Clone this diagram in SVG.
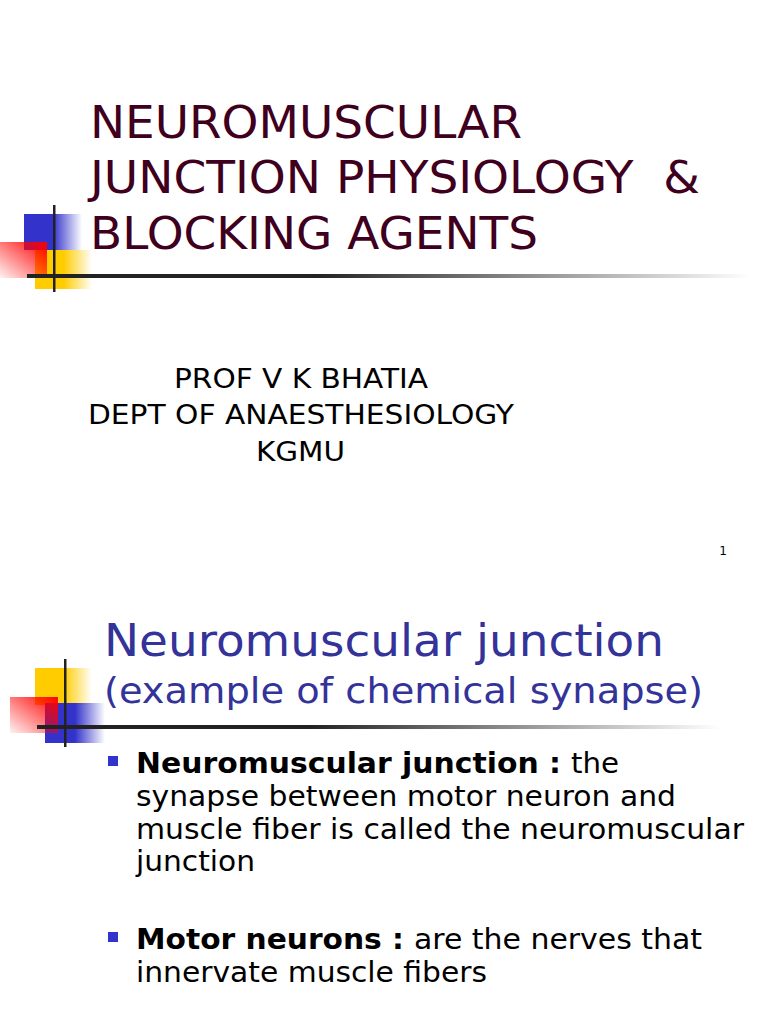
<svg xmlns="http://www.w3.org/2000/svg" width="768" height="1024" viewBox="0 0 768 1024">
<defs>
<linearGradient id="bl" x1="0" x2="1"><stop offset="0.5" stop-color="#3333cc"/><stop offset="1" stop-color="#3333cc" stop-opacity="0"/></linearGradient>
<linearGradient id="ye" x1="0" x2="1"><stop offset="0.5" stop-color="#ffcc00"/><stop offset="1" stop-color="#ffcc00" stop-opacity="0"/></linearGradient>
<linearGradient id="re" x1="1" y1="0" x2="0" y2="1"><stop offset="0" stop-color="#ff0000"/><stop offset="1" stop-color="#ff0000" stop-opacity="0.05"/></linearGradient>
<linearGradient id="ln" x1="0" x2="1"><stop offset="0.4" stop-color="#222"/><stop offset="1" stop-color="#222" stop-opacity="0"/></linearGradient>
<style>text{font-family:"DejaVu Sans",Verdana,sans-serif}</style>
</defs>
<rect width="768" height="1024" fill="#fff"/>
<g id="slide1">
<rect x="24" y="214" width="58" height="36" fill="url(#bl)"/>
<rect x="35" y="250" width="57" height="39" fill="url(#ye)"/>
<rect x="0" y="242" width="47" height="36" fill="url(#re)"/>
<rect x="27" y="274" width="723" height="4" fill="url(#ln)"/>
<rect x="53" y="205" width="2.5" height="87" fill="#222"/>
<g font-size="45" fill="#3f0020" lengthAdjust="spacingAndGlyphs">
<text x="90" y="138" textLength="432" lengthAdjust="spacingAndGlyphs">NEUROMUSCULAR</text>
<text x="90" y="193" textLength="610" lengthAdjust="spacingAndGlyphs" xml:space="preserve">JUNCTION PHYSIOLOGY  &amp;</text>
<text x="90" y="249" textLength="448" lengthAdjust="spacingAndGlyphs">BLOCKING AGENTS</text>
</g>
<g font-size="27" fill="#000">
<text x="174" y="388" textLength="254" lengthAdjust="spacingAndGlyphs">PROF V K BHATIA</text>
<text x="88" y="424" textLength="426" lengthAdjust="spacingAndGlyphs">DEPT OF ANAESTHESIOLOGY</text>
<text x="256" y="461" textLength="89" lengthAdjust="spacingAndGlyphs">KGMU</text>
</g>
<text x="723" y="555" font-size="12" text-anchor="middle">1</text>
</g>
<g id="slide2">
<rect x="35" y="668" width="57" height="37" fill="url(#ye)"/>
<rect x="45" y="703" width="60" height="40" fill="url(#bl)"/>
<rect x="10" y="697" width="48" height="36" fill="url(#re)"/>
<rect x="37" y="725" width="683" height="4" fill="url(#ln)"/>
<rect x="64" y="659" width="2.5" height="88" fill="#222"/>
<text x="104" y="656" font-size="45" fill="#333399" textLength="560" lengthAdjust="spacingAndGlyphs">Neuromuscular junction</text>
<text x="104" y="703" font-size="36" fill="#333399" textLength="599" lengthAdjust="spacingAndGlyphs">(example of chemical synapse)</text>
<rect x="108" y="756" width="10" height="10" fill="#3333cc"/>
<rect x="108" y="932" width="10" height="10" fill="#3333cc"/>
<g font-size="28" fill="#000">
<text x="136" y="773" font-weight="bold" textLength="425" lengthAdjust="spacingAndGlyphs">Neuromuscular junction :</text>
<text x="571" y="773" textLength="48" lengthAdjust="spacingAndGlyphs">the</text>
<text x="136" y="806" textLength="540" lengthAdjust="spacingAndGlyphs">synapse between motor neuron and</text>
<text x="136" y="839" textLength="608" lengthAdjust="spacingAndGlyphs">muscle fiber is called the neuromuscular</text>
<text x="136" y="871" textLength="119" lengthAdjust="spacingAndGlyphs">junction</text>
<text x="136" y="949" font-weight="bold" textLength="268" lengthAdjust="spacingAndGlyphs">Motor neurons :</text>
<text x="414" y="949" textLength="288" lengthAdjust="spacingAndGlyphs">are the nerves that</text>
<text x="136" y="982" textLength="351" lengthAdjust="spacingAndGlyphs">innervate muscle fibers</text>
</g>
</g>
</svg>
